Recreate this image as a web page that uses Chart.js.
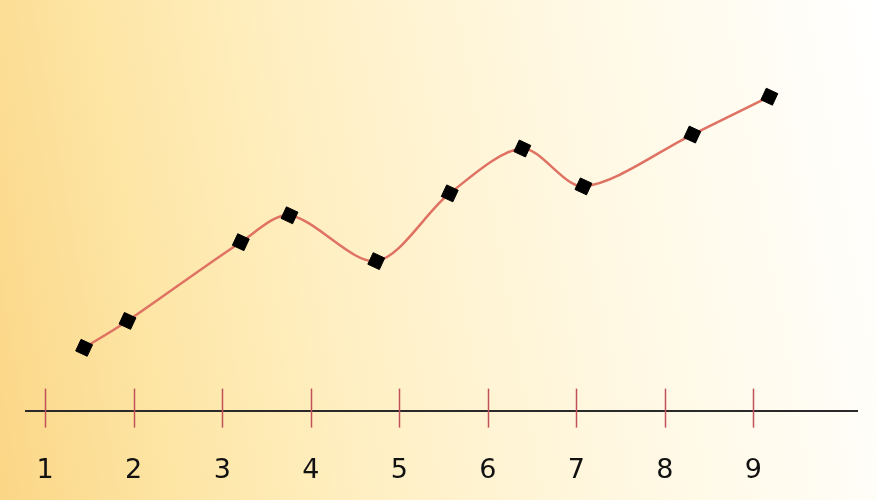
<!DOCTYPE html>
<html lang="en">
<head>
<meta charset="UTF-8">
<title>Line chart</title>
<script src="https://cdn.jsdelivr.net/npm/chart.js@4.4.0/dist/chart.umd.min.js"></script>
<style>
  * { margin:0; padding:0; box-sizing:border-box; }
  html, body { width:877px; height:500px; overflow:hidden; }
  body { background:linear-gradient(80deg, #fbd686 0%, #fde5a4 18%, #ffefc2 38%, #fff6dc 60%, #fffbee 80%, #ffffff 100%); }
  .wrap { position:relative; width:877px; height:500px; }
</style>
</head>
<body>
<div class="wrap"><canvas id="chart"></canvas></div>

<script>
// x positions of the points (in axis units) and their heights
const xVals = [1.44, 1.93, 3.21, 3.76, 4.74, 5.57, 6.39, 7.08, 8.31, 9.18];
const yVals = [63, 90, 169, 196, 150, 218, 263, 225, 277, 315];
const tickLabels = [1, 2, 3, 4, 5, 6, 7, 8, 9];

// red tick marks that cross the axis line (above and below)
const crossTicks = {
  id: 'crossTicks',
  afterDraw(chart) {
    const xs = chart.scales.x, ys = chart.scales.y;
    const ctx = chart.ctx;
    const base = ys.getPixelForValue(0);
    ctx.save();
    ctx.strokeStyle = '#c0505a';
    ctx.lineWidth = 1.5;
    tickLabels.forEach(v => {
      const px = Math.round(xs.getPixelForValue(v)) + 0.5;
      ctx.beginPath();
      ctx.moveTo(px, base - 22);
      ctx.lineTo(px, base + 17);
      ctx.stroke();
    });
    ctx.restore();
  }
};

new Chart(document.getElementById('chart'), {
  type: 'line',
  data: {
    datasets: [{
      data: xVals.map((x, i) => ({ x: x, y: yVals[i] })),
      borderColor: '#df7262',
      borderWidth: 2.5,
      tension: 0.3,
      pointStyle: 'rect',
      pointRotation: 25,
      pointRadius: 9,
      pointBackgroundColor: '#000',
      pointBorderColor: '#000',
      pointBorderWidth: 1,
      clip: false
    }]
  },
  options: {
    responsive: true,
    maintainAspectRatio: false,
    animation: false,
    layout: { padding: { left: 25, right: 20, top: 12, bottom: -23 } },
    plugins: { legend: { display: false }, tooltip: { enabled: false } },
    scales: {
      x: {
        type: 'linear',
        min: 0.786,
        max: 10.17,
        afterBuildTicks: s => { s.ticks = tickLabels.map(v => ({ value: v })); },
        grid: { display: false },
        border: { display: true, color: '#2a2a2a', width: 2 },
        ticks: {
          padding: 36,
          maxRotation: 0,
          color: '#111',
          font: { family: 'DejaVu Sans', size: 27 },
          callback: v => String(v)
        }
      },
      y: {
        display: false,
        min: 0,
        max: 400
      }
    }
  },
  plugins: [crossTicks]
});
</script>
</body>
</html>
